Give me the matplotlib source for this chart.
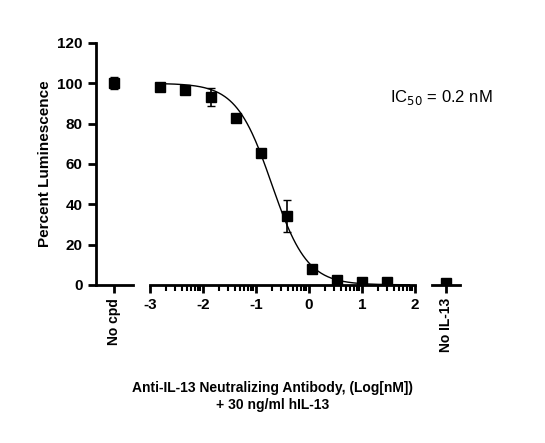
import numpy as np
import matplotlib
matplotlib.use("Agg")
import matplotlib.pyplot as plt

logx = [-2.81, -2.34, -1.85, -1.38, -0.91, -0.42, 0.06, 0.53, 1.0, 1.47]
resp = [98, 96.5, 93, 83, 65.5, 34, 8, 2.5, 1.5, 1.5]
err = [1.5, 1.2, 4.5, 1.5, 1.5, 8, 1, 1, 0.5, 0.5]
nocpd_val, nocpd_err = 100, 3
noil_val, noil_err = 1, 0.5

plt.rcParams['font.family'] = ['Liberation Sans', 'DejaVu Sans']
plt.rcParams['axes.unicode_minus'] = False
fig = plt.figure(figsize=(5.45, 4.43), dpi=100)
b, h = 0.357, 0.546
axL = fig.add_axes([0.176, b, 0.068, h])
axM = fig.add_axes([0.275, b, 0.486, h])
axR = fig.add_axes([0.793, b, 0.051, h])

for ax in (axL, axM, axR):
    ax.set_ylim(0, 120)
    ax.patch.set_alpha(0)
    for s in ('top', 'right'):
        ax.spines[s].set_visible(False)
    ax.spines['bottom'].set_linewidth(2)
    ax.spines['left'].set_linewidth(2)
    ax.tick_params(width=2, length=6, labelsize=11, direction='out')
for ax in (axM, axR):
    ax.spines['left'].set_visible(False)
    ax.set_yticks([])

axL.set_yticks([0, 20, 40, 60, 80, 100, 120])
for lab in axL.get_yticklabels():
    lab.set_fontweight('bold')
axL.set_ylabel('Percent Luminescence', fontsize=11, fontweight='bold')
axL.set_xlim(-1, 1)
axL.set_xticks([0])
axL.set_xticklabels(['No cpd'], rotation=90, fontweight='bold', fontsize=10)
axL.errorbar([0], [nocpd_val], yerr=[nocpd_err], fmt='s', color='black', ms=7, capsize=3, elinewidth=1.2)

axM.set_xlim(-3, 2)
axM.set_xticks([-3, -2, -1, 0, 1, 2])
minor = [d + np.log10(k) for d in range(-3, 2) for k in range(2, 10)]
axM.set_xticks(minor, minor=True)
axM.tick_params(axis='x', which='minor', width=1.5, length=4)
for lab in axM.get_xticklabels():
    lab.set_fontweight('bold')
xx = np.linspace(-2.75, 1.9, 300)
logic50, hill = -0.7, 1.3
axM.plot(xx, 100 / (1 + 10 ** (hill * (xx - logic50))), color='black', lw=1)
axM.errorbar(logx, resp, yerr=err, fmt='s', color='black', ms=7, capsize=3, elinewidth=1.2)

axR.set_xlim(-1, 1)
axR.set_xticks([0])
axR.set_xticklabels(['No IL-13'], rotation=90, fontweight='bold', fontsize=10)
axR.errorbar([0], [noil_val], yerr=[noil_err], fmt='s', color='black', ms=7, capsize=3, elinewidth=1.2)

fig.text(0.715, 0.78, 'IC$_{50}$ = 0.2 nM', fontsize=12, ha='left', va='center')
fig.text(0.5, 0.105, 'Anti-IL-13 Neutralizing Antibody, (Log[nM])\n+ 30 ng/ml hIL-13',
         ha='center', va='center', fontsize=10, fontweight='bold')
fig.savefig('out.png', dpi=100)
